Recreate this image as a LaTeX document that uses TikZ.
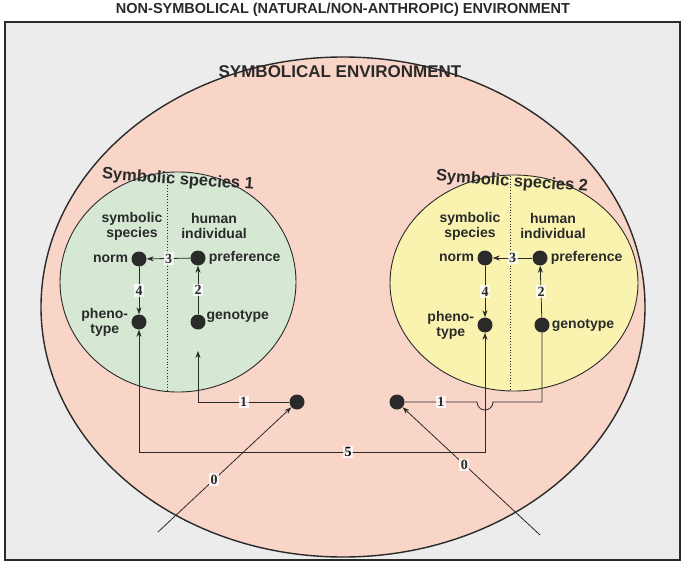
\documentclass[tikz,border=0pt]{standalone}
\usepackage{fontspec}
\setmainfont{Liberation Sans}
\newfontfamily\numfont{Liberation Serif}
\usetikzlibrary{arrows.meta}
\definecolor{bggray}{HTML}{ECECEC}
\definecolor{envpink}{HTML}{F9D5C8}
\definecolor{spgreen}{HTML}{D6E8D4}
\definecolor{spyellow}{HTML}{FAF3B0}
\definecolor{ink}{HTML}{2A2A2A}
\tikzset{
  dot/.style={circle,fill=ink,inner sep=0pt,minimum size=15pt},
  lbl/.style={font=\bfseries\fontsize{14}{15}\selectfont,text=ink,align=center,inner sep=1pt},
  num/.style={font=\numfont\bfseries\fontsize{14}{14}\selectfont,fill=white,fill opacity=0.8,text opacity=1,inner sep=1.5pt},
  link/.style={ink,line width=0.8pt,-{Stealth[length=7pt,width=5pt]}},
}
\begin{document}
\begin{tikzpicture}[x=1pt,y=-1pt]
    \useasboundingbox (0,0) rectangle (685,567);
    \fill[white] (0,0) rectangle (685,567);

    % non-symbolical environment
    \node[font=\bfseries\fontsize{14.5}{16}\selectfont,text=ink] (title) at (343,10) {NON-SYMBOLICAL (NATURAL/NON-ANTHROPIC) ENVIRONMENT};
    \draw[ink,fill=bggray,line width=1.4pt] (5,22) rectangle (680,560);

    % symbolical environment
    \draw[ink,fill=envpink,line width=1.4pt] (343,307) ellipse [x radius=302,y radius=250];
    \node[font=\bfseries\fontsize{17}{18}\selectfont,text=ink] (env) at (340,72) {SYMBOLICAL ENVIRONMENT};

    % species ellipses
    \draw[ink,fill=spgreen,line width=0.9pt] (178,282) ellipse [x radius=118,y radius=110];
    \draw[ink,fill=spyellow,line width=0.9pt] (514,283) ellipse [x radius=124,y radius=108];
    \node[font=\bfseries\fontsize{16.5}{18}\selectfont,text=ink,rotate=-4] (sp1) at (178,180) {Symbolic species 1};
    \node[font=\bfseries\fontsize{16.5}{18}\selectfont,text=ink,rotate=-4] (sp2) at (512,182) {Symbolic species 2};
    \draw[ink,dotted,line width=0.8pt] (167,174) -- (167,392);
    \draw[ink,dotted,line width=0.8pt] (510,176) -- (510,391);

    %%%%%%%%%%%%%%%%%%%%%%%%%%%%%%%%%%%%%%%%%%%%%%%%%%%%%%

    % species 1
    \node[lbl] (ss1) at (132,226) {symbolic\\species};
    \node[lbl] (hi1) at (214,226) {human\\individual};
    \node[dot] (norm1) at (139,259) {};
    \node[dot] (pref1) at (198,258) {};
    \node[dot] (phen1) at (139,322) {};
    \node[dot] (gen1) at (198,322) {};
    \node[lbl,left=2pt] at (norm1.west) {norm};
    \node[lbl,right=2pt] at (pref1.east) {preference};
    \node[lbl,left=2pt] at (phen1.west) {pheno-\\type};
    \node[lbl,right=2pt] at (gen1.north east) {genotype};
    \draw[link] (pref1) -- node[num] {3} (norm1);
    \draw[link] (gen1) -- node[num] {2} (pref1);
    \draw[link] (norm1) -- node[num] {4} (phen1);

    % species 2
    \node[lbl] (ss2) at (470,226) {symbolic\\species};
    \node[lbl] (hi2) at (553,226) {human\\individual};
    \node[dot] (norm2) at (485,258) {};
    \node[dot] (pref2) at (540,258) {};
    \node[dot] (phen2) at (485,325) {};
    \node[dot] (gen2) at (542,325) {};
    \node[lbl,left=2pt] at (norm2.west) {norm};
    \node[lbl,right=2pt] at (pref2.east) {preference};
    \node[lbl,left=2pt] at (phen2.west) {pheno-\\type};
    \node[lbl,right=1pt] at (gen2.east) {genotype};
    \draw[link] (pref2) -- node[num] {3} (norm2);
    \draw[link] (gen2) -- node[num] {2} (pref2);
    \draw[link] (norm2) -- node[num] {4} (phen2);

    %%%%%%%%%%%%%%%%%%%%%%%%%%%%%%%%%%%%%%%%%%%%%%%%%%%%%%

    % environment dots
    \node[dot] (envA) at (297,402) {};
    \node[dot] (envB) at (397,402) {};
    \coordinate (tip1) at (198,351);
    \coordinate (src0a) at (158,532);
    \coordinate (src0b) at (540,535);

    % links 1
    \draw[link] (envA) -- node[num] {1} (198,402) -- (tip1);
    \draw[ink,line width=0.8pt] (envB) -- node[num] {1} (477,402) arc (180:0:8) -- (542,402) -- (gen2);

    % link 5
    \draw[link] (348,452) -| (phen1);
    \draw[link] (348,452) -| (phen2);
    \node[num] at (348,452) {5};

    % links 0
    \draw[link] (src0a) -- node[num,pos=0.42] {0} (envA);
    \draw[link] (src0b) -- node[num,pos=0.55] {0} (envB);
\end{tikzpicture}
\end{document}
